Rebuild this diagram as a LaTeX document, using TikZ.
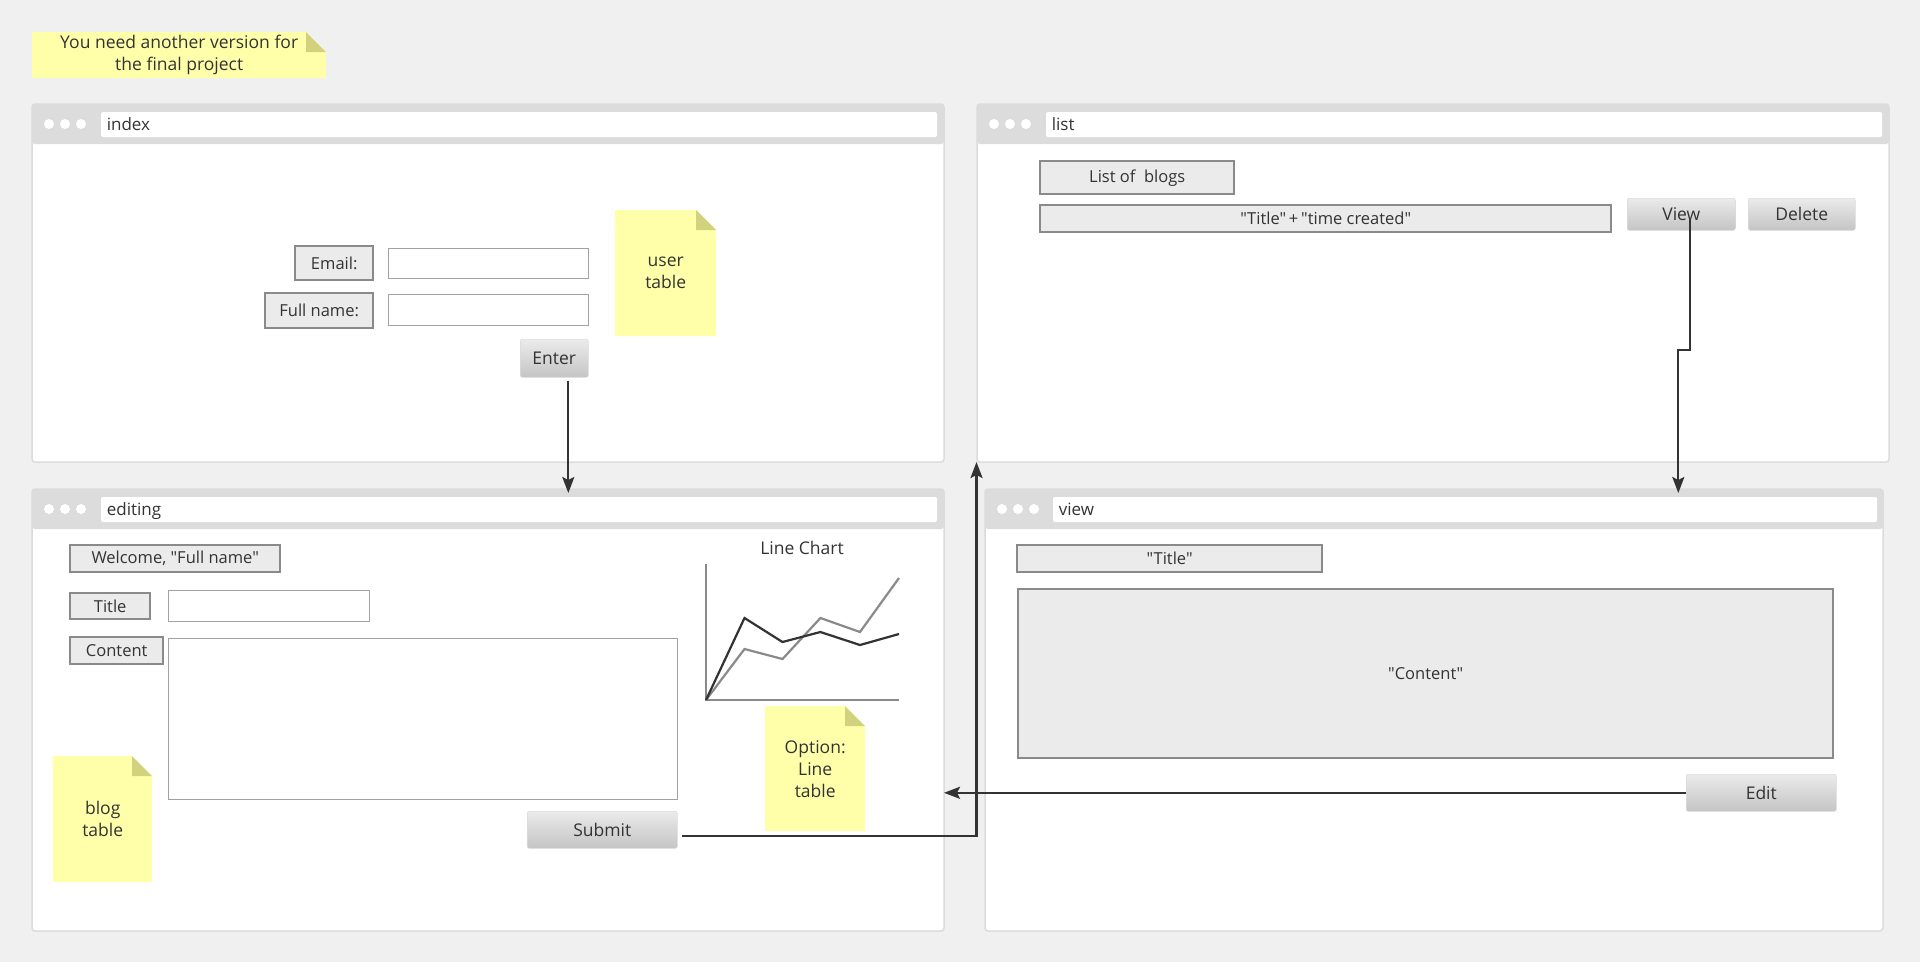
\documentclass[tikz,border=0pt]{standalone}
\usepackage{fontspec}
\defaultfontfeatures[\rmfamily]{}
\setmainfont{Open Sans}
\usetikzlibrary{arrows.meta,positioning}

\definecolor{canvas}{HTML}{F0F0F0}
\definecolor{frame}{HTML}{DCDCDC}
\definecolor{ink}{HTML}{333333}
\definecolor{boxline}{HTML}{8A8A8A}
\definecolor{boxfill}{HTML}{EBEBEB}
\definecolor{notefill}{HTML}{FFFFAA}
\definecolor{notefold}{HTML}{D2D27E}
\newcommand{\dq}{\symbol{34}}

\tikzset{
  browser/.style={draw=frame, line width=1.5pt, fill=white, rounded corners=3pt,
    anchor=north west, inner sep=0pt, outer sep=0pt,
    path picture={
      \fill[frame] (path picture bounding box.north west) rectangle ([yshift=-40pt]path picture bounding box.north east);
      \foreach \d in {17,33,49}
        \fill[white] ([xshift=\d pt,yshift=-20pt]path picture bounding box.north west) circle (5pt);}},
  urlbar/.style={fill=white, rounded corners=2pt, anchor=north west, inner sep=0pt, outer sep=0pt,
    minimum height=25pt, text=ink, font=\fontsize{17}{19}\selectfont, align=left, text depth=0pt},
  lblbox/.style={draw=boxline, line width=2.4pt, fill=boxfill, anchor=north west, inner sep=0pt,
    text=ink, font=\fontsize{16.5}{18}\selectfont},
  field/.style={draw=boxline!80, line width=1.2pt, fill=white, anchor=north west, inner sep=0pt},
  btn/.style={draw=frame, line width=0.6pt, top color=white!92!black, bottom color=white!77!black,
    rounded corners=2pt, anchor=north west, inner sep=0pt, text=ink, font=\fontsize{17.5}{19}\selectfont},
  note/.style={anchor=north west, inner sep=0pt, align=center, text=ink,
    font=\fontsize{17.5}{22}\selectfont,
    path picture={
      \fill[notefill] (path picture bounding box.north west) -- ([xshift=-20pt]path picture bounding box.north east)
        -- ([yshift=-20pt]path picture bounding box.north east) -- (path picture bounding box.south east)
        -- (path picture bounding box.south west) -- cycle;
      \fill[notefold] ([xshift=-20pt]path picture bounding box.north east)
        -- ([yshift=-20pt]path picture bounding box.north east) -- ([xshift=-20pt,yshift=-20pt]path picture bounding box.north east) -- cycle;}},
  conn/.style={draw=ink, line width=2.3pt, -{Stealth[length=16pt,width=12pt,inset=3pt]}},
  series/.style={line width=2.2pt, line join=miter}
}

\begin{document}
\begin{tikzpicture}[x=1pt,y=-1pt]
  \fill[canvas] (0,0) rectangle (1920,962);
  \useasboundingbox (0,0) rectangle (1920,962);

  % remark
  \node[note, minimum width=294pt, minimum height=46pt] (remark) at (32,32) {You need another version for\\the final project};

  % windows
  \node[browser, minimum width=912pt, minimum height=358pt] (index) at (32,104) {};
  \node[browser, minimum width=912pt, minimum height=358pt] (list) at (977,104) {};
  \node[browser, minimum width=912pt, minimum height=442pt] (editing) at (32,489) {};
  \node[browser, minimum width=898pt, minimum height=442pt] (view) at (985,489) {};
  \node[urlbar, text width=830pt, minimum width=836pt] (indexurl) at ([xshift=69pt,yshift=-8pt]index.north west) {\,index};
  \node[urlbar, text width=830pt, minimum width=836pt] (listurl) at ([xshift=69pt,yshift=-8pt]list.north west) {\,list};
  \node[urlbar, text width=830pt, minimum width=836pt] (editingurl) at ([xshift=69pt,yshift=-8pt]editing.north west) {\,editing};
  \node[urlbar, text width=818pt, minimum width=824pt] (viewurl) at ([xshift=68pt,yshift=-8pt]view.north west) {\,view};

  % index page
  \node[lblbox, minimum width=78pt, minimum height=34pt] (email) at (294,245) {Email:};
  \node[lblbox, minimum width=108pt, minimum height=35pt] (fullname) at (264,292) {Full name:};
  \node[field, minimum width=200pt, minimum height=30pt] (emailin) at (388,248) {};
  \node[field, minimum width=200pt, minimum height=31pt] (fullnamein) at (388,294) {};
  \node[btn, minimum width=68pt, minimum height=38pt] (enter) at (520,339) {Enter};
  \node[note, minimum width=101pt, minimum height=126pt] (usertable) at (615,210) {user\\table};

  % list page
  \node[lblbox, minimum width=194pt, minimum height=33pt] (listof) at (1039,160) {List of~ blogs};
  \node[lblbox, minimum width=571pt, minimum height=27pt] (entry) at (1039,204) {\dq Title\dq\,+\,\dq time created\dq};
  \node[btn, minimum width=108pt, minimum height=32pt] (viewbtn) at (1627,198) {View};
  \node[btn, minimum width=107pt, minimum height=32pt] (delete) at (1748,198) {Delete};

  % editing page
  \node[lblbox, minimum width=210pt, minimum height=27pt] (welcome) at (69,544) {Welcome, \dq Full name\dq};
  \node[lblbox, minimum width=80pt, minimum height=26pt] (titlelbl) at (69,592) {Title};
  \node[field, minimum width=201pt, minimum height=31pt] (titlein) at (168,590) {};
  \node[lblbox, minimum width=93pt, minimum height=27pt] (contentlbl) at (69,636) {Content};
  \node[field, minimum width=509pt, minimum height=161pt] (contentin) at (168,638) {};
  \node[btn, minimum width=150pt, minimum height=37pt] (submit) at (527,811) {Submit};
  \node[note, minimum width=99pt, minimum height=126pt] (blogtable) at (53,756) {blog\\table};
  \node[text=ink, font=\fontsize{17.5}{19}\selectfont] (chart) at (802,548) {Line Chart};
  \draw[boxline, line width=2.2pt] (706,564) -- (706,700) -- (899,700);
  \draw[series, boxline] (706,700) -- (744.5,649) -- (782.5,659) -- (820.4,618) -- (860,632) -- (899,578);
  \draw[series, ink] (706,700) -- (744.5,618) -- (782.5,642) -- (820.4,632) -- (860,645) -- (899,634);
  \node[note, minimum width=100pt, minimum height=125pt] (option) at (765,706) {Option:\\Line\\table};

  % view page
  \node[lblbox, minimum width=305pt, minimum height=27pt] (viewtitle) at (1016,544) {\dq Title\dq};
  \node[lblbox, minimum width=815pt, minimum height=169pt] (viewcontent) at (1017,588) {\dq Content\dq};
  \node[btn, minimum width=150pt, minimum height=37pt] (editbtn) at (1686,774) {Edit};

  % flow
  \draw[conn] ([xshift=14pt,yshift=-3pt]enter.south) coordinate (e1) -- ([yshift=-4pt]e1 |- editing.north);
  \draw[conn] ([xshift=9pt,yshift=-6pt]viewbtn.center) -- ++(0,130) coordinate (v1) -- ++(-12,0) coordinate (v2) -- ([yshift=-4pt]v2 |- view.north);
  \draw[conn] ([xshift=4pt,yshift=-6pt]submit.east) -| ([xshift=-0.5pt]list.south west);
  \draw[conn] (editbtn.west) -- (editbtn.west -| editing.east);
\end{tikzpicture}
\end{document}
